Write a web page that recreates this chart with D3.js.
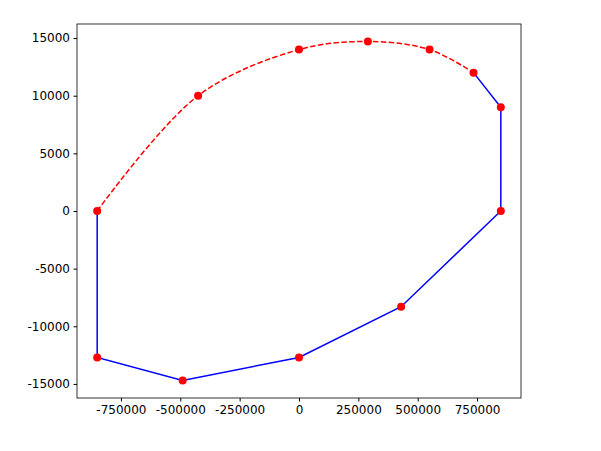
<!DOCTYPE html><html><head><meta charset="utf-8"><script src="https://d3js.org/d3.v7.min.js"></script>
<style>body{margin:0;background:#fff}text{font-family:"DejaVu Sans";font-size:12px}</style></head><body>
<script>
const upperX=[-850000,-425000,0,290000,550000,735000];
const upperY=[0,10000,14000,14700,14000,12000];
const lowerX=[735000,850000,850000,430000,0,-490000,-850000,-850000];
const lowerY=[12000,9000,0,-8300,-12700,-14700,-12700,0];
const dotX=[-850000,-425000,0,290000,550000,735000,850000,850000,430000,0,-490000,-850000];
const dotY=[0,10000,14000,14700,14000,12000,9000,0,-8300,-12700,-14700,-12700];
const xTicks=[-750000,-500000,-250000,0,250000,500000,750000];
const yTicks=[-15000,-10000,-5000,0,5000,10000,15000];
const W=601,H=451,L=77,R=521,T=24,B=398;
const fmt=d=>String(d);
const svg=d3.select("body").append("svg").attr("width",W).attr("height",H);
const x=d3.scaleLinear().domain([-935000,935000]).range([L,R]);
const y=d3.scaleLinear().domain([-16220,16220]).range([B,T]);
svg.append("g").attr("transform",`translate(0,${B})`).call(d3.axisBottom(x).tickValues(xTicks).tickSize(3.5).tickPadding(3.5).tickFormat(fmt))
 .call(g=>g.select(".domain").remove());
svg.append("g").attr("transform",`translate(${L},0)`).call(d3.axisLeft(y).tickValues(yTicks).tickSize(3.5).tickPadding(3.5).tickFormat(fmt))
 .call(g=>g.select(".domain").remove());
svg.selectAll(".tick text").attr("fill","#000").style("font-size","12px");
svg.append("path").datum(lowerX.map((d,i)=>[d,lowerY[i]])).attr("d",d3.line().x(d=>x(d[0])).y(d=>y(d[1])))
 .attr("fill","none").attr("stroke","blue").attr("stroke-width",1.5);
svg.append("path").datum(upperX.map((d,i)=>[d,upperY[i]])).attr("d",d3.line().curve(d3.curveCatmullRom).x(d=>x(d[0])).y(d=>y(d[1])))
 .attr("fill","none").attr("stroke","red").attr("stroke-width",1.5).attr("stroke-dasharray","5.5,2.4");
svg.selectAll("circle").data(dotX).join("circle").attr("cx",d=>x(d)).attr("cy",(d,i)=>y(dotY[i])).attr("r",4).attr("fill","red");
svg.append("rect").attr("x",L).attr("y",T).attr("width",R-L).attr("height",B-T).attr("fill","none").attr("stroke","#000").attr("stroke-width",0.8);
</script></body></html>
